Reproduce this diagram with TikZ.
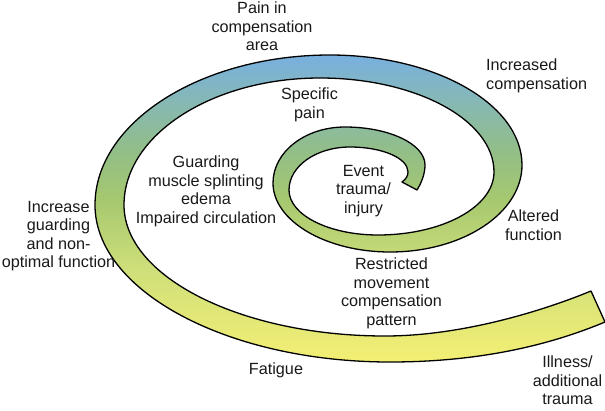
\documentclass[tikz,border=0pt]{standalone}
\usepackage{fontspec}
\setmainfont{Liberation Sans}
\definecolor{sy}{HTML}{F4EF74}
\definecolor{syg}{HTML}{CFDF7A}
\definecolor{sg}{HTML}{A6C86F}
\definecolor{sgt}{HTML}{92BE88}
\definecolor{st}{HTML}{86B8B6}
\definecolor{sb}{HTML}{78B0E0}
\pgfdeclareverticalshading{spiralshade}{100bp}{color(0bp)=(sy); color(25bp)=(sy); color(40bp)=(syg); color(51.4bp)=(sg); color(59.5bp)=(sgt); color(67.7bp)=(st); color(75bp)=(sb); color(100bp)=(sb)}
\tikzset{
  lbl/.style={font=\fontsize{16.2}{18.5}\selectfont, align=center, inner sep=0pt, anchor=north, text=black!90},
  band/.style={shading=spiralshade, draw=black, line width=1.3pt, line join=round}
}
\begin{document}
\begin{tikzpicture}[x=1pt, y=-1pt]
\useasboundingbox (0,0) rectangle (605,410);
% spiral band
\shadedraw[band]
  (417,190) .. controls (422,182) and (425,173) .. (425,165)
  .. controls (425,144) and (389,127) .. (345,127)
  .. controls (305,127) and (273,152) .. (273,183)
  .. controls (273,221) and (326,252) .. (390,252)
  .. controls (463,252) and (522,213) .. (522,165)
  .. controls (522,104.5) and (435.6,55) .. (330,55)
  .. controls (200.75,55) and (95,122.5) .. (95,205)
  .. controls (95,291) and (227.75,362) .. (390,362)
  .. controls (480,362) and (550,345) .. (605,322)
  -- (591,291)
  .. controls (540,312) and (460,336) .. (385,336)
  .. controls (241.5,336) and (124,277) .. (124,205)
  .. controls (124,135) and (212,78) .. (320,78)
  .. controls (415.7,78) and (494,120) .. (494,172)
  .. controls (494,207) and (442,235) .. (378,235)
  .. controls (329,235) and (289,215) .. (289,190)
  .. controls (289,166) and (316.5,147) .. (350,147)
  .. controls (382,147) and (408,158) .. (408,172)
  .. controls (408,176) and (406,179) .. (402,182)
  -- cycle;
% labels
\node[lbl] (pain) at (262,2) {Pain in\\compensation\\area};
\node[lbl, anchor=north west, align=left] (incomp) at (486,59) {Increased\\compensation};
\node[lbl] (spec) at (309.5,88) {Specific\\pain};
\node[lbl] (event) at (363.5,165) {Event\\trauma/\\injury};
\node[lbl] (guard) at (206,156) {Guarding\\muscle splinting\\edema\\Impaired circulation};
\node[lbl] (incguard) at (58.5,201) {Increase\\guarding\\and non-\\optimal function};
\node[lbl] (alt) at (533.5,210) {Altered\\function};
\node[lbl] (restr) at (391.5,258) {Restricted\\movement\\compensation\\pattern};
\node[lbl] (fat) at (276,363) {Fatigue};
\node[lbl] (ill) at (567.5,356) {Illness/\\additional\\trauma};
\end{tikzpicture}
\end{document}
